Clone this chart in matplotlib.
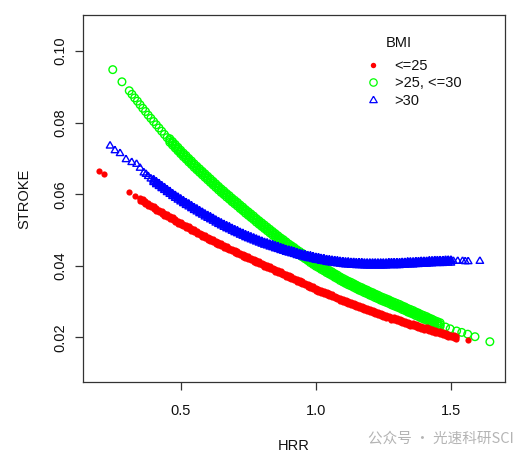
import matplotlib
matplotlib.use("Agg")
import matplotlib.pyplot as plt
from matplotlib.lines import Line2D

plt.rcParams['font.family'] = ['Liberation Sans', 'DejaVu Sans']

# ---------------- data ----------------
groups = ["<=25", ">25, <=30", ">30"]
legend_title = "BMI"
x_ticks = [0.5, 1.0, 1.5]
x_tick_labels = ["0.5", "1.0", "1.5"]
y_ticks = [0.02, 0.04, 0.06, 0.08, 0.10]
y_tick_labels = ["0.02", "0.04", "0.06", "0.08", "0.10"]

# ---- BMI <= 25 (red dots) ----
hrr_red_sparse = [0.199, 0.216, 0.310, 0.331, 1.564]
stroke_red_sparse = [0.0666, 0.0656, 0.0606, 0.0595, 0.0193]
# dense cloud: upper edge, centre and lower edge of the point band
hrr_red_band = [0.35, 0.36, 0.37, 0.38, 0.39, 0.40,
                0.41, 0.42, 0.43, 0.44, 0.45, 0.46, 0.47, 0.48, 0.49, 0.50,
                0.51, 0.52, 0.53, 0.54, 0.55, 0.56, 0.57, 0.58, 0.59, 0.60,
                0.61, 0.62, 0.63, 0.64, 0.65, 0.66, 0.67, 0.68, 0.69, 0.70,
                0.71, 0.72, 0.73, 0.74, 0.75, 0.76, 0.77, 0.78, 0.79, 0.80,
                0.81, 0.82, 0.83, 0.84, 0.85, 0.86, 0.87, 0.88, 0.89, 0.90,
                0.91, 0.92, 0.93, 0.94, 0.95, 0.96, 0.97, 0.98, 0.99, 1.00,
                1.01, 1.02, 1.03, 1.04, 1.05, 1.06, 1.07, 1.08, 1.09, 1.10,
                1.11, 1.12, 1.13, 1.14, 1.15, 1.16, 1.17, 1.18, 1.19, 1.20,
                1.21, 1.22, 1.23, 1.24, 1.25, 1.26, 1.27, 1.28, 1.29, 1.30,
                1.31, 1.32, 1.33, 1.34, 1.35, 1.36, 1.37, 1.38, 1.39, 1.40,
                1.41, 1.42, 1.43, 1.44, 1.45, 1.46, 1.47, 1.48, 1.49, 1.50,
                1.51, 1.52]
stroke_red_upper = [0.0590, 0.0586, 0.0581, 0.0576, 0.0571, 0.0566,
                    0.0562, 0.0557, 0.0553, 0.0548, 0.0544, 0.0540, 0.0535, 0.0531, 0.0526, 0.0522,
                    0.0518, 0.0514, 0.0510, 0.0506, 0.0502, 0.0497, 0.0493, 0.0489, 0.0485, 0.0481,
                    0.0477, 0.0474, 0.0470, 0.0466, 0.0463, 0.0459, 0.0455, 0.0451, 0.0448, 0.0444,
                    0.0441, 0.0437, 0.0434, 0.0430, 0.0427, 0.0423, 0.0420, 0.0416, 0.0413, 0.0409,
                    0.0406, 0.0402, 0.0399, 0.0395, 0.0392, 0.0388, 0.0385, 0.0381, 0.0378, 0.0374,
                    0.0371, 0.0367, 0.0364, 0.0360, 0.0357, 0.0353, 0.0350, 0.0346, 0.0343, 0.0339,
                    0.0336, 0.0333, 0.0330, 0.0327, 0.0324, 0.0320, 0.0317, 0.0314, 0.0311, 0.0308,
                    0.0305, 0.0302, 0.0299, 0.0296, 0.0294, 0.0291, 0.0288, 0.0285, 0.0282, 0.0279,
                    0.0276, 0.0274, 0.0271, 0.0269, 0.0266, 0.0263, 0.0261, 0.0258, 0.0256, 0.0253,
                    0.0251, 0.0248, 0.0246, 0.0244, 0.0241, 0.0239, 0.0237, 0.0235, 0.0232, 0.0230,
                    0.0228, 0.0226, 0.0223, 0.0221, 0.0219, 0.0217, 0.0215, 0.0212, 0.0210, 0.0208,
                    0.0206, 0.0204]
stroke_red_mid = [0.0586, 0.0582, 0.0577, 0.0572, 0.0567, 0.0562,
                  0.0558, 0.0553, 0.0549, 0.0544, 0.0540, 0.0536, 0.0531, 0.0527, 0.0522, 0.0518,
                  0.0514, 0.0510, 0.0506, 0.0502, 0.0498, 0.0493, 0.0489, 0.0485, 0.0481, 0.0477,
                  0.0473, 0.0470, 0.0466, 0.0462, 0.0459, 0.0455, 0.0451, 0.0447, 0.0444, 0.0440,
                  0.0437, 0.0433, 0.0430, 0.0426, 0.0423, 0.0419, 0.0416, 0.0412, 0.0409, 0.0405,
                  0.0402, 0.0398, 0.0395, 0.0391, 0.0388, 0.0384, 0.0381, 0.0377, 0.0374, 0.0370,
                  0.0367, 0.0363, 0.0360, 0.0356, 0.0353, 0.0349, 0.0346, 0.0342, 0.0339, 0.0335,
                  0.0332, 0.0329, 0.0326, 0.0323, 0.0320, 0.0316, 0.0313, 0.0310, 0.0307, 0.0304,
                  0.0301, 0.0298, 0.0295, 0.0292, 0.0290, 0.0287, 0.0284, 0.0281, 0.0278, 0.0275,
                  0.0272, 0.0270, 0.0267, 0.0265, 0.0262, 0.0259, 0.0257, 0.0254, 0.0252, 0.0249,
                  0.0247, 0.0244, 0.0242, 0.0240, 0.0237, 0.0235, 0.0233, 0.0231, 0.0228, 0.0226,
                  0.0224, 0.0222, 0.0219, 0.0217, 0.0215, 0.0213, 0.0211, 0.0208, 0.0206, 0.0204,
                  0.0202, 0.0200]
stroke_red_lower = [0.0582, 0.0578, 0.0573, 0.0568, 0.0563, 0.0558,
                    0.0554, 0.0549, 0.0545, 0.0540, 0.0536, 0.0532, 0.0527, 0.0523, 0.0518, 0.0514,
                    0.0510, 0.0506, 0.0502, 0.0498, 0.0494, 0.0489, 0.0485, 0.0481, 0.0477, 0.0473,
                    0.0469, 0.0466, 0.0462, 0.0458, 0.0455, 0.0451, 0.0447, 0.0443, 0.0440, 0.0436,
                    0.0433, 0.0429, 0.0426, 0.0422, 0.0419, 0.0415, 0.0412, 0.0408, 0.0405, 0.0401,
                    0.0398, 0.0394, 0.0391, 0.0387, 0.0384, 0.0380, 0.0377, 0.0373, 0.0370, 0.0366,
                    0.0363, 0.0359, 0.0356, 0.0352, 0.0349, 0.0345, 0.0342, 0.0338, 0.0335, 0.0331,
                    0.0328, 0.0325, 0.0322, 0.0319, 0.0316, 0.0312, 0.0309, 0.0306, 0.0303, 0.0300,
                    0.0297, 0.0294, 0.0291, 0.0288, 0.0286, 0.0283, 0.0280, 0.0277, 0.0274, 0.0271,
                    0.0268, 0.0266, 0.0263, 0.0261, 0.0258, 0.0255, 0.0253, 0.0250, 0.0248, 0.0245,
                    0.0243, 0.0240, 0.0238, 0.0236, 0.0233, 0.0231, 0.0229, 0.0227, 0.0224, 0.0222,
                    0.0220, 0.0218, 0.0215, 0.0213, 0.0211, 0.0209, 0.0207, 0.0204, 0.0202, 0.0200,
                    0.0198, 0.0196]

# ---- BMI >25, <=30 (green open circles) ----
hrr_green_sparse = [0.249, 0.283,
                    0.31, 0.32, 0.33, 0.34, 0.35, 0.36, 0.37, 0.38, 0.39, 0.40,
                    0.41, 0.42, 0.43, 0.44, 0.45,
                    1.48, 1.497, 1.521, 1.540, 1.562, 1.589, 1.644]
stroke_green_sparse = [0.0948, 0.0914,
                       0.0889, 0.0879, 0.0869, 0.0860, 0.0850, 0.0840, 0.0831, 0.0821, 0.0812, 0.0803,
                       0.0794, 0.0785, 0.0776, 0.0767, 0.0758,
                       0.0229, 0.0224, 0.0218, 0.0214, 0.0209, 0.0202, 0.0188]
hrr_green_band = [0.46, 0.47, 0.48, 0.49, 0.50,
                  0.51, 0.52, 0.53, 0.54, 0.55, 0.56, 0.57, 0.58, 0.59, 0.60,
                  0.61, 0.62, 0.63, 0.64, 0.65, 0.66, 0.67, 0.68, 0.69, 0.70,
                  0.71, 0.72, 0.73, 0.74, 0.75, 0.76, 0.77, 0.78, 0.79, 0.80,
                  0.81, 0.82, 0.83, 0.84, 0.85, 0.86, 0.87, 0.88, 0.89, 0.90,
                  0.91, 0.92, 0.93, 0.94, 0.95, 0.96, 0.97, 0.98, 0.99, 1.00,
                  1.01, 1.02, 1.03, 1.04, 1.05, 1.06, 1.07, 1.08, 1.09, 1.10,
                  1.11, 1.12, 1.13, 1.14, 1.15, 1.16, 1.17, 1.18, 1.19, 1.20,
                  1.21, 1.22, 1.23, 1.24, 1.25, 1.26, 1.27, 1.28, 1.29, 1.30,
                  1.31, 1.32, 1.33, 1.34, 1.35, 1.36, 1.37, 1.38, 1.39, 1.40,
                  1.41, 1.42, 1.43, 1.44, 1.45, 1.46]
stroke_green_upper = [0.0755, 0.0747, 0.0739, 0.0731, 0.0723,
                      0.0715, 0.0708, 0.0700, 0.0693, 0.0685, 0.0678, 0.0671, 0.0664, 0.0657, 0.0650,
                      0.0643, 0.0636, 0.0629, 0.0622, 0.0615, 0.0609, 0.0602, 0.0596, 0.0589, 0.0583,
                      0.0577, 0.0570, 0.0564, 0.0557, 0.0551, 0.0545, 0.0539, 0.0532, 0.0526, 0.0520,
                      0.0514, 0.0508, 0.0502, 0.0496, 0.0490, 0.0484, 0.0478, 0.0473, 0.0467, 0.0461,
                      0.0456, 0.0451, 0.0445, 0.0440, 0.0435, 0.0430, 0.0425, 0.0419, 0.0414, 0.0409,
                      0.0405, 0.0400, 0.0396, 0.0391, 0.0387, 0.0383, 0.0378, 0.0374, 0.0369, 0.0365,
                      0.0361, 0.0357, 0.0354, 0.0350, 0.0346, 0.0342, 0.0339, 0.0335, 0.0332, 0.0328,
                      0.0325, 0.0321, 0.0318, 0.0314, 0.0311, 0.0308, 0.0305, 0.0301, 0.0298, 0.0295,
                      0.0292, 0.0288, 0.0285, 0.0281, 0.0278, 0.0275, 0.0271, 0.0268, 0.0264, 0.0261,
                      0.0258, 0.0254, 0.0251, 0.0247, 0.0244, 0.0241]
stroke_green_mid = [0.0750, 0.0742, 0.0734, 0.0726, 0.0718,
                    0.0710, 0.0703, 0.0695, 0.0688, 0.0680, 0.0673, 0.0666, 0.0659, 0.0652, 0.0645,
                    0.0638, 0.0631, 0.0624, 0.0617, 0.0610, 0.0604, 0.0597, 0.0591, 0.0584, 0.0578,
                    0.0572, 0.0565, 0.0559, 0.0552, 0.0546, 0.0540, 0.0534, 0.0527, 0.0521, 0.0515,
                    0.0509, 0.0503, 0.0497, 0.0491, 0.0485, 0.0479, 0.0473, 0.0468, 0.0462, 0.0456,
                    0.0451, 0.0446, 0.0440, 0.0435, 0.0430, 0.0425, 0.0420, 0.0414, 0.0409, 0.0404,
                    0.0400, 0.0395, 0.0391, 0.0386, 0.0382, 0.0378, 0.0373, 0.0369, 0.0364, 0.0360,
                    0.0356, 0.0352, 0.0349, 0.0345, 0.0341, 0.0337, 0.0334, 0.0330, 0.0327, 0.0323,
                    0.0320, 0.0316, 0.0313, 0.0309, 0.0306, 0.0303, 0.0300, 0.0296, 0.0293, 0.0290,
                    0.0287, 0.0283, 0.0280, 0.0276, 0.0273, 0.0270, 0.0266, 0.0263, 0.0259, 0.0256,
                    0.0253, 0.0249, 0.0246, 0.0242, 0.0239, 0.0236]
stroke_green_lower = [0.0745, 0.0737, 0.0729, 0.0721, 0.0713,
                      0.0705, 0.0698, 0.0690, 0.0683, 0.0675, 0.0668, 0.0661, 0.0654, 0.0647, 0.0640,
                      0.0633, 0.0626, 0.0619, 0.0612, 0.0605, 0.0599, 0.0592, 0.0586, 0.0579, 0.0573,
                      0.0567, 0.0560, 0.0554, 0.0547, 0.0541, 0.0535, 0.0529, 0.0522, 0.0516, 0.0510,
                      0.0504, 0.0498, 0.0492, 0.0486, 0.0480, 0.0474, 0.0468, 0.0463, 0.0457, 0.0451,
                      0.0446, 0.0441, 0.0435, 0.0430, 0.0425, 0.0420, 0.0415, 0.0409, 0.0404, 0.0399,
                      0.0395, 0.0390, 0.0386, 0.0381, 0.0377, 0.0373, 0.0368, 0.0364, 0.0359, 0.0355,
                      0.0351, 0.0347, 0.0344, 0.0340, 0.0336, 0.0332, 0.0329, 0.0325, 0.0322, 0.0318,
                      0.0315, 0.0311, 0.0308, 0.0304, 0.0301, 0.0298, 0.0295, 0.0291, 0.0288, 0.0285,
                      0.0282, 0.0278, 0.0275, 0.0271, 0.0268, 0.0265, 0.0261, 0.0258, 0.0254, 0.0251,
                      0.0248, 0.0244, 0.0241, 0.0237, 0.0234, 0.0231]

# ---- BMI > 30 (blue open triangles) ----
hrr_blue_sparse = [0.239, 0.257, 0.276, 0.298, 0.319, 0.337, 0.350, 0.364, 0.372, 0.38, 0.39,
                   1.509, 1.525, 1.543, 1.553, 1.564, 1.607]
stroke_blue_sparse = [0.0735, 0.0722, 0.0714, 0.0697, 0.0689, 0.0684, 0.0673, 0.0660, 0.0656,
                      0.0650, 0.0643,
                      0.0413, 0.0413, 0.0413, 0.0412, 0.0412, 0.0413]
hrr_blue_band = [0.40,
                 0.41, 0.42, 0.43, 0.44, 0.45, 0.46, 0.47, 0.48, 0.49, 0.50,
                 0.51, 0.52, 0.53, 0.54, 0.55, 0.56, 0.57, 0.58, 0.59, 0.60,
                 0.61, 0.62, 0.63, 0.64, 0.65, 0.66, 0.67, 0.68, 0.69, 0.70,
                 0.71, 0.72, 0.73, 0.74, 0.75, 0.76, 0.77, 0.78, 0.79, 0.80,
                 0.81, 0.82, 0.83, 0.84, 0.85, 0.86, 0.87, 0.88, 0.89, 0.90,
                 0.91, 0.92, 0.93, 0.94, 0.95, 0.96, 0.97, 0.98, 0.99, 1.00,
                 1.01, 1.02, 1.03, 1.04, 1.05, 1.06, 1.07, 1.08, 1.09, 1.10,
                 1.11, 1.12, 1.13, 1.14, 1.15, 1.16, 1.17, 1.18, 1.19, 1.20,
                 1.21, 1.22, 1.23, 1.24, 1.25, 1.26, 1.27, 1.28, 1.29, 1.30,
                 1.31, 1.32, 1.33, 1.34, 1.35, 1.36, 1.37, 1.38, 1.39, 1.40,
                 1.41, 1.42, 1.43, 1.44, 1.45, 1.46, 1.47, 1.48, 1.49, 1.50]
stroke_blue_upper = [0.0641,
                     0.0635, 0.0630, 0.0624, 0.0619, 0.0613, 0.0608, 0.0602, 0.0597, 0.0592, 0.0587,
                     0.0582, 0.0577, 0.0573, 0.0568, 0.0563, 0.0559, 0.0554, 0.0550, 0.0545, 0.0541,
                     0.0537, 0.0533, 0.0528, 0.0524, 0.0520, 0.0516, 0.0512, 0.0509, 0.0505, 0.0501,
                     0.0498, 0.0494, 0.0491, 0.0487, 0.0484, 0.0481, 0.0478, 0.0475, 0.0472, 0.0469,
                     0.0466, 0.0464, 0.0461, 0.0459, 0.0456, 0.0454, 0.0451, 0.0449, 0.0446, 0.0444,
                     0.0442, 0.0440, 0.0437, 0.0435, 0.0433, 0.0431, 0.0429, 0.0428, 0.0426, 0.0424,
                     0.0423, 0.0421, 0.0420, 0.0418, 0.0417, 0.0416, 0.0415, 0.0414, 0.0413, 0.0412,
                     0.0411, 0.0411, 0.0410, 0.0410, 0.0409, 0.0409, 0.0409, 0.0408, 0.0408, 0.0408,
                     0.0408, 0.0408, 0.0408, 0.0408, 0.0408, 0.0408, 0.0409, 0.0409, 0.0409, 0.0409,
                     0.0409, 0.0410, 0.0410, 0.0411, 0.0411, 0.0411, 0.0412, 0.0412, 0.0413, 0.0413,
                     0.0413, 0.0414, 0.0414, 0.0415, 0.0415, 0.0415, 0.0415, 0.0416, 0.0416, 0.0416]
stroke_blue_mid = [0.0637,
                   0.0631, 0.0626, 0.0620, 0.0615, 0.0609, 0.0604, 0.0598, 0.0593, 0.0588, 0.0583,
                   0.0578, 0.0573, 0.0569, 0.0564, 0.0559, 0.0555, 0.0550, 0.0546, 0.0541, 0.0537,
                   0.0533, 0.0529, 0.0524, 0.0520, 0.0516, 0.0512, 0.0508, 0.0505, 0.0501, 0.0497,
                   0.0494, 0.0490, 0.0487, 0.0483, 0.0480, 0.0477, 0.0474, 0.0471, 0.0468, 0.0465,
                   0.0462, 0.0460, 0.0457, 0.0455, 0.0452, 0.0450, 0.0447, 0.0445, 0.0442, 0.0440,
                   0.0438, 0.0436, 0.0433, 0.0431, 0.0429, 0.0427, 0.0425, 0.0424, 0.0422, 0.0420,
                   0.0419, 0.0417, 0.0416, 0.0414, 0.0413, 0.0412, 0.0411, 0.0410, 0.0409, 0.0408,
                   0.0407, 0.0407, 0.0406, 0.0406, 0.0405, 0.0405, 0.0405, 0.0404, 0.0404, 0.0404,
                   0.0404, 0.0404, 0.0404, 0.0404, 0.0404, 0.0404, 0.0405, 0.0405, 0.0405, 0.0405,
                   0.0405, 0.0406, 0.0406, 0.0407, 0.0407, 0.0407, 0.0408, 0.0408, 0.0409, 0.0409,
                   0.0409, 0.0410, 0.0410, 0.0411, 0.0411, 0.0411, 0.0411, 0.0412, 0.0412, 0.0412]
stroke_blue_lower = [0.0633,
                     0.0627, 0.0622, 0.0616, 0.0611, 0.0605, 0.0600, 0.0594, 0.0589, 0.0584, 0.0579,
                     0.0574, 0.0569, 0.0565, 0.0560, 0.0555, 0.0551, 0.0546, 0.0542, 0.0537, 0.0533,
                     0.0529, 0.0525, 0.0520, 0.0516, 0.0512, 0.0508, 0.0504, 0.0501, 0.0497, 0.0493,
                     0.0490, 0.0486, 0.0483, 0.0479, 0.0476, 0.0473, 0.0470, 0.0467, 0.0464, 0.0461,
                     0.0458, 0.0456, 0.0453, 0.0451, 0.0448, 0.0446, 0.0443, 0.0441, 0.0438, 0.0436,
                     0.0434, 0.0432, 0.0429, 0.0427, 0.0425, 0.0423, 0.0421, 0.0420, 0.0418, 0.0416,
                     0.0415, 0.0413, 0.0412, 0.0410, 0.0409, 0.0408, 0.0407, 0.0406, 0.0405, 0.0404,
                     0.0403, 0.0403, 0.0402, 0.0402, 0.0401, 0.0401, 0.0401, 0.0400, 0.0400, 0.0400,
                     0.0400, 0.0400, 0.0400, 0.0400, 0.0400, 0.0400, 0.0401, 0.0401, 0.0401, 0.0401,
                     0.0401, 0.0402, 0.0402, 0.0403, 0.0403, 0.0403, 0.0404, 0.0404, 0.0405, 0.0405,
                     0.0405, 0.0406, 0.0406, 0.0407, 0.0407, 0.0407, 0.0407, 0.0408, 0.0408, 0.0408]

# ---------------- styling ----------------
RED, GREEN, BLUE = "#FF0000", "#00FF00", "#0000FF"
AXC = "#333333"
TXC = "#111111"
FS = 10.5
TRI = [(0.0, 1.0), (-0.866, -0.5), (0.866, -0.5), (0.0, 1.0)]
S_RED, S_GREEN, S_BLUE = 20, 30, 38

W, H = 527, 457
fig = plt.figure(figsize=(W / 100, H / 100), dpi=100)
left, right, top, bottom = 83.3, 505.0, 15.0, 382.3
ax = fig.add_axes([left / W, 1 - bottom / H, (right - left) / W, (bottom - top) / H])

green_kw = dict(s=S_GREEN, facecolors="none", edgecolors=GREEN, linewidths=1.0, zorder=2)
ax.scatter(hrr_green_sparse, stroke_green_sparse, **green_kw)
for ys in (stroke_green_upper, stroke_green_mid, stroke_green_lower):
    ax.scatter(hrr_green_band, ys, **green_kw)

red_kw = dict(s=S_RED, color=RED, linewidths=0, zorder=3)
ax.scatter(hrr_red_sparse, stroke_red_sparse, **red_kw)
for ys in (stroke_red_upper, stroke_red_mid, stroke_red_lower):
    ax.scatter(hrr_red_band, ys, **red_kw)

blue_kw = dict(s=S_BLUE, marker=TRI, facecolors="none", edgecolors=BLUE, linewidths=1.0, zorder=4)
ax.scatter(hrr_blue_sparse, stroke_blue_sparse, **blue_kw)
for ys in (stroke_blue_upper, stroke_blue_mid, stroke_blue_lower):
    ax.scatter(hrr_blue_band, ys, **blue_kw)

ax.set_xlim(0.140, 1.700)
ax.set_ylim(0.00746, 0.11006)
ax.set_xticks(x_ticks)
ax.set_xticklabels(x_tick_labels)
ax.set_yticks(y_ticks)
ax.set_yticklabels(y_tick_labels, rotation=90, va="center")

for sp in ax.spines.values():
    sp.set_color(AXC)
    sp.set_linewidth(0.9)
ax.tick_params(axis="both", direction="out", length=5.8, width=0.9, color=AXC,
               labelsize=FS, labelcolor=TXC)
ax.tick_params(axis="x", pad=9.5)
ax.tick_params(axis="y", pad=5.5)

ax.set_xlabel("HRR", fontsize=FS, color=TXC)
ax.set_ylabel("STROKE", fontsize=FS, color=TXC)
ax.xaxis.set_label_coords(0.5, -0.154)
ax.yaxis.set_label_coords(-0.124, 0.5)

handles = [
    Line2D([], [], ls="none", marker="o", ms=3.9, mfc=RED, mec=RED, mew=0),
    Line2D([], [], ls="none", marker="o", ms=5.3, mfc="none", mec=GREEN, mew=0.9),
    Line2D([], [], ls="none", marker=TRI, ms=6.2, mfc="none", mec=BLUE, mew=0.9),
]
leg = ax.legend(handles, groups, title=legend_title, loc="upper left",
                bbox_to_anchor=(365.4 / W, 1 - 41.0 / H), bbox_transform=fig.transFigure,
                frameon=False, borderpad=0, borderaxespad=0, handlelength=1.0,
                handletextpad=1.0, labelspacing=0.25, alignment="left",
                fontsize=FS, title_fontsize=FS)
leg.get_title().set_position((20, 5))
for t in leg.get_texts():
    t.set_color(TXC)
leg.get_title().set_color(TXC)

fig.text(368.5 / W, 1 - 439 / H, "公众号 · 光速科研SCI", fontsize=10.5, color="#b4b4b4",
         ha="left", va="center", family=["Noto Sans CJK SC", "DejaVu Sans"])

fig.savefig("out.png", dpi=100, facecolor="white")
